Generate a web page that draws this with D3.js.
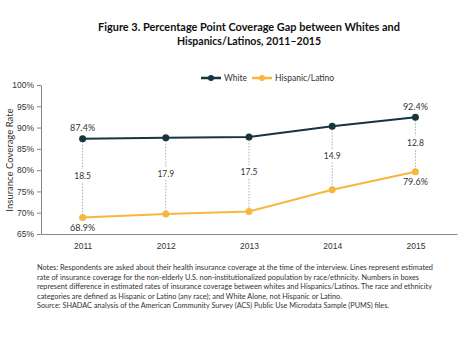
<!DOCTYPE html>
<html><head><meta charset="utf-8">
<script src="https://cdn.jsdelivr.net/npm/d3@7"></script>
<style>body{margin:0;background:#fff;} svg{display:block;font-family:Lato,"Open Sans",sans-serif;}</style>
</head><body>
<svg id="c" width="474" height="355"></svg>
<script>
const years = ["2011","2012","2013","2014","2015"];
const white = [87.4, 87.6, 87.8, 90.3, 92.4];
const hispanic = [68.9, 69.7, 70.3, 75.4, 79.6];
const gaps = ["18.5","17.9","17.5","14.9","12.8"];
const yTicks = [65,70,75,80,85,90,95,100];
const seriesNames = ["White","Hispanic/Latino"];
const notes = [
 "Notes: Respondents are asked about their health insurance coverage at the time of the interview. Lines represent estimated",
 "rate of insurance coverage for the non-elderly U.S. non-institutionalized population by race/ethnicity. Numbers in boxes",
 "represent difference in estimated rates of insurance coverage between whites and Hispanics/Latinos. The race and ethnicity",
 "categories are defined as Hispanic or Latino (any race); and White Alone, not Hispanic or Latino.",
 "Source: SHADAC analysis of the American Community Survey (ACS) Public Use Microdata Sample (PUMS) files."
];
const noteWidths = [396, 382, 395, 305, 352];
const colW = "#17343f", colH = "#f6b73c";

const svg = d3.select("#c");
const x = d3.scalePoint().domain(years).range([41,457]).padding(0.5);
const y = d3.scaleLinear().domain([65,100]).range([234,85]);

// title
svg.append("text").attr("x",249).attr("y",31).attr("text-anchor","middle")
  .attr("font-weight","bold").attr("font-size","11.5px").attr("fill","#111")
  .attr("textLength",302).attr("lengthAdjust","spacingAndGlyphs")
  .text("Figure 3. Percentage Point Coverage Gap between Whites and");
svg.append("text").attr("x",249).attr("y",45).attr("text-anchor","middle")
  .attr("font-weight","bold").attr("font-size","11.5px").attr("fill","#111")
  .attr("textLength",144).attr("lengthAdjust","spacingAndGlyphs")
  .text("Hispanics/Latinos, 2011\u20132015");

// axes
const ya = svg.append("g").attr("transform","translate(41,0)")
  .call(d3.axisLeft(y).tickValues(yTicks).tickFormat(d=>d+"%").tickSize(4).tickSizeOuter(0));
ya.select(".domain").attr("stroke","#888");
ya.selectAll(".tick line").attr("stroke","#888");
ya.selectAll("text").attr("font-size","8.5px").attr("fill","#333");
const xa = svg.append("g").attr("transform","translate(0,234)")
  .call(d3.axisBottom(x).tickSize(0).tickPadding(9));
xa.select(".domain").attr("stroke","#888");
xa.selectAll("text").attr("font-size","8.5px").attr("fill","#333");

svg.append("text").attr("transform","translate(13,160) rotate(-90)")
  .attr("text-anchor","middle").attr("font-size","9.5px").attr("fill","#333")
  .text("Insurance Coverage Rate");

// dotted connectors
svg.selectAll(".conn").data(years).enter().append("line")
  .attr("x1",d=>x(d)).attr("x2",d=>x(d))
  .attr("y1",(d,i)=>y(white[i])).attr("y2",(d,i)=>y(hispanic[i]))
  .attr("stroke","#aaa").attr("stroke-width",1).attr("stroke-dasharray","1.5,1.5");

// gap labels in boxes
const gl = svg.selectAll(".gap").data(years).enter().append("g")
  .attr("transform",(d,i)=>`translate(${x(d)},${(y(white[i])+y(hispanic[i]))/2 - 2})`);
gl.append("rect").attr("x",-10).attr("y",-7).attr("width",20).attr("height",13).attr("fill","#fff");
gl.append("text").attr("text-anchor","middle").attr("dy","0.35em")
  .attr("font-size","8.5px").attr("fill","#333").text((d,i)=>gaps[i]);

// lines
const line = vals => d3.line().x((d,i)=>x(years[i])).y(d=>y(d))(vals);
svg.append("path").attr("d",line(white)).attr("fill","none").attr("stroke",colW).attr("stroke-width",2);
svg.append("path").attr("d",line(hispanic)).attr("fill","none").attr("stroke",colH).attr("stroke-width",2);
svg.selectAll(".pw").data(white).enter().append("circle")
  .attr("cx",(d,i)=>x(years[i])).attr("cy",d=>y(d)).attr("r",3.5).attr("fill",colW);
svg.selectAll(".ph").data(hispanic).enter().append("circle")
  .attr("cx",(d,i)=>x(years[i])).attr("cy",d=>y(d)).attr("r",3.5).attr("fill",colH);

// value labels at ends
[0,4].forEach(i=>{
  svg.append("text").attr("x",x(years[i])).attr("y",y(white[i])-11).attr("dy","0.35em")
    .attr("text-anchor","middle").attr("font-size","9px").attr("fill","#333").text(white[i].toFixed(1)+"%");
  svg.append("text").attr("x",x(years[i])).attr("y",y(hispanic[i])+10).attr("dy","0.35em")
    .attr("text-anchor","middle").attr("font-size","9px").attr("fill","#333").text(hispanic[i].toFixed(1)+"%");
});

// legend
const leg = [{n:seriesNames[0],c:colW,x:201},{n:seriesNames[1],c:colH,x:252}];
leg.forEach(l=>{
  svg.append("line").attr("x1",l.x).attr("x2",l.x+20).attr("y1",78).attr("y2",78).attr("stroke",l.c).attr("stroke-width",2.5);
  svg.append("circle").attr("cx",l.x+10).attr("cy",78).attr("r",3).attr("fill",l.c);
  svg.append("text").attr("x",l.x+23).attr("y",78).attr("dy","0.35em").attr("font-size","8.5px").attr("fill","#333").text(l.n);
});

// notes
notes.forEach((t,i)=>{
  svg.append("text").attr("x",37).attr("y",270+i*9.6).attr("font-size","7.3px").attr("fill","#333")
    .attr("textLength",noteWidths[i]).attr("lengthAdjust","spacingAndGlyphs").text(t);
});
</script>
</body></html>
